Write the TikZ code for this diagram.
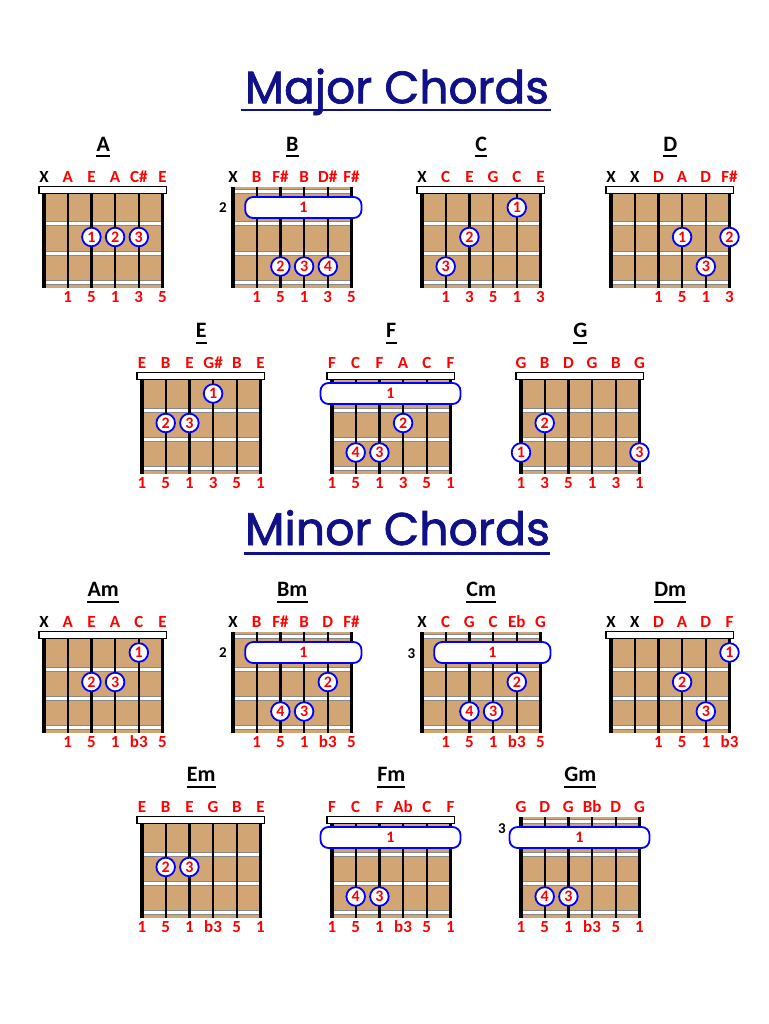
\documentclass[tikz,border=0pt]{standalone}
\usepackage{fontspec}
\setmainfont{Carlito}
\newfontfamily\titlefont{Poppins}[FakeBold=1.6]
\usetikzlibrary{calc}
\definecolor{board}{RGB}{210,166,116}
\definecolor{navy}{RGB}{16,16,136}
\definecolor{fretgray}{RGB}{135,135,135}
\newcommand\mx{\textcolor{black}{X}}
\tikzset{
  note/.style={text=red, font=\fontsize{17pt}{20pt}\selectfont\bfseries, anchor=base, inner sep=0pt},
  fingerdot/.style={circle, draw=blue, line width=1.8pt, fill=white, minimum size=18.6pt, inner sep=0pt, text=red, font=\fontsize{16pt}{18pt}\selectfont\bfseries},
  barrebox/.style={rectangle, rounded corners=8pt, draw=blue, line width=1.8pt, fill=white, minimum height=21pt, inner sep=0pt, text=red, font=\fontsize{16pt}{18pt}\selectfont\bfseries},
  chordtitle/.style={anchor=base, inner sep=0pt, font=\fontsize{22pt}{26pt}\selectfont\bfseries},
  poslabel/.style={inner sep=0pt, font=\fontsize{15pt}{18pt}\selectfont\bfseries},
  fretedge/.style={fretgray, line width=5pt},
  fretcore/.style={white, line width=3pt},
  lowstring/.style={black, line width=4pt},
  thinstring/.style={black, line width=2.4pt},
  nutbar/.style={draw=black, fill=white, line width=1.5pt},
  sectitle/.style={anchor=base, inner sep=0pt, text=navy},
  secline/.style={navy, line width=2.5pt},
}
% #1 prefix, #2 title, #3 nut (1/0), #4 notes, #5 intervals
\newcommand\chordbase[5]{%
  \ifnum#3=1\relax\def\btop{16.3}\else\def\btop{10}\fi
  \fill[board] (0,\btop) rectangle (118.5,111);
  \ifnum#3=0\relax
    \draw[fretedge] (0,14.5) -- (118.5,14.5);
    \draw[fretcore] (0,14.5) -- (118.5,14.5);
  \fi
  \foreach \f in {47,76,105} {
    \draw[fretedge] (0,\f) -- (118.5,\f);
    \draw[fretcore] (0,\f) -- (118.5,\f);
  }
  \draw[lowstring] (0,\btop) -- (0,111);
  \foreach \k in {1,...,5} \draw[thinstring] (\k*23.7,\btop) -- (\k*23.7,111);
  \ifnum#3=1\relax \draw[nutbar] (-5,9.7) rectangle (122.7,16.3); \fi
  \node[chordtitle] (#1-t) at (59.25,-25.5) {#2};
  \draw[line width=2pt] ($(#1-t.base west)+(0,5)$) -- ($(#1-t.base east)+(0,5)$);
  \foreach \n [count=\j from 0] in {#4} \node[note] (#1-n\j) at (\j*23.7,5.8) {\n};
  \foreach \n [count=\j from 0] in {#5} \node[note] (#1-i\j) at (\j*23.7,125.2) {\n};
}
% #1 name, #2 string, #3 fret, #4 finger
\newcommand\fing[4]{\node[fingerdot] (#1) at ({#2*23.7},{30.5+(#3-1)*29.5}) {#4};}
% #1 name, #2 start string
\newcommand\barre[2]{\node[barrebox, minimum width={128.5-(#2*23.7-11.5)}] (#1) at ({(#2*23.7-11.5+128.5)/2},30.5) {1};}
\begin{document}
\begin{tikzpicture}[x=1pt,y=-1pt]
\useasboundingbox[fill=white] (0,0) rectangle (768,1024);

% Section titles
\node[sectitle] (major) at (397,103.3) {\resizebox{304pt}{!}{\titlefont Major Chords}};
\draw[secline] ($(major.base west)+(-4,6.8)$) -- ($(major.base east)+(2,6.8)$);
\node[sectitle] (minor) at (397.5,545) {\resizebox{305pt}{!}{\titlefont Minor Chords}};
\draw[secline] ($(minor.base west)+(-1,8.3)$) -- ($(minor.base east)+(0,8.3)$);

% ---------- Major ----------
\begin{scope}[shift={(44,177)}]
  \chordbase{A}{A}{1}{\mx,A,E,A,C\#,E}{{},1,5,1,3,5}
  \fing{A-f1}{2}{2}{1}\fing{A-f2}{3}{2}{2}\fing{A-f3}{4}{2}{3}
\end{scope}
\begin{scope}[shift={(233,177)}]
  \chordbase{B}{B}{0}{\mx,B,F\#,B,D\#,F\#}{{},1,5,1,3,5}
  \node[poslabel] (B-p) at (-10,31) {2};
  \barre{B-b}{1}
  \fing{B-f2}{2}{3}{2}\fing{B-f3}{3}{3}{3}\fing{B-f4}{4}{3}{4}
\end{scope}
\begin{scope}[shift={(422,177)}]
  \chordbase{C}{C}{1}{\mx,C,E,G,C,E}{{},1,3,5,1,3}
  \fing{C-f1}{4}{1}{1}\fing{C-f2}{2}{2}{2}\fing{C-f3}{1}{3}{3}
\end{scope}
\begin{scope}[shift={(611,177)}]
  \chordbase{D}{D}{1}{\mx,\mx,D,A,D,F\#}{{},{},1,5,1,3}
  \fing{D-f1}{3}{2}{1}\fing{D-f2}{5}{2}{2}\fing{D-f3}{4}{3}{3}
\end{scope}
\begin{scope}[shift={(142,363)}]
  \chordbase{E}{E}{1}{E,B,E,G\#,B,E}{1,5,1,3,5,1}
  \fing{E-f1}{3}{1}{1}\fing{E-f2}{1}{2}{2}\fing{E-f3}{2}{2}{3}
\end{scope}
\begin{scope}[shift={(332,363)}]
  \chordbase{F}{F}{1}{F,C,F,A,C,F}{1,5,1,3,5,1}
  \barre{F-b}{0}
  \fing{F-f2}{3}{2}{2}\fing{F-f3}{2}{3}{3}\fing{F-f4}{1}{3}{4}
\end{scope}
\begin{scope}[shift={(521,363)}]
  \chordbase{G}{G}{1}{G,B,D,G,B,G}{1,3,5,1,3,1}
  \fing{G-f1}{0}{3}{1}\fing{G-f2}{1}{2}{2}\fing{G-f3}{5}{3}{3}
\end{scope}

% ---------- Minor ----------
\begin{scope}[shift={(44,622)}]
  \chordbase{Am}{Am}{1}{\mx,A,E,A,C,E}{{},1,5,1,b3,5}
  \fing{Am-f1}{4}{1}{1}\fing{Am-f2}{2}{2}{2}\fing{Am-f3}{3}{2}{3}
\end{scope}
\begin{scope}[shift={(233,622)}]
  \chordbase{Bm}{Bm}{0}{\mx,B,F\#,B,D,F\#}{{},1,5,1,b3,5}
  \node[poslabel] (Bm-p) at (-10,31) {2};
  \barre{Bm-b}{1}
  \fing{Bm-f2}{4}{2}{2}\fing{Bm-f3}{3}{3}{3}\fing{Bm-f4}{2}{3}{4}
\end{scope}
\begin{scope}[shift={(422,622)}]
  \chordbase{Cm}{Cm}{0}{\mx,C,G,C,Eb,G}{{},1,5,1,b3,5}
  \node[poslabel] (Cm-p) at (-10.5,31.5) {3};
  \barre{Cm-b}{1}
  \fing{Cm-f2}{4}{2}{2}\fing{Cm-f3}{3}{3}{3}\fing{Cm-f4}{2}{3}{4}
\end{scope}
\begin{scope}[shift={(611,622)}]
  \chordbase{Dm}{Dm}{1}{\mx,\mx,D,A,D,F}{{},{},1,5,1,b3}
  \fing{Dm-f1}{5}{1}{1}\fing{Dm-f2}{3}{2}{2}\fing{Dm-f3}{4}{3}{3}
\end{scope}
\begin{scope}[shift={(142,807)}]
  \chordbase{Em}{Em}{1}{E,B,E,G,B,E}{1,5,1,b3,5,1}
  \fing{Em-f2}{1}{2}{2}\fing{Em-f3}{2}{2}{3}
\end{scope}
\begin{scope}[shift={(332,807)}]
  \chordbase{Fm}{Fm}{1}{F,C,F,Ab,C,F}{1,5,1,b3,5,1}
  \barre{Fm-b}{0}
  \fing{Fm-f3}{2}{3}{3}\fing{Fm-f4}{1}{3}{4}
\end{scope}
\begin{scope}[shift={(521,807)}]
  \chordbase{Gm}{Gm}{0}{G,D,G,Bb,D,G}{1,5,1,b3,5,1}
  \node[poslabel] (Gm-p) at (-19,22) {3};
  \barre{Gm-b}{0}
  \fing{Gm-f3}{2}{3}{3}\fing{Gm-f4}{1}{3}{4}
\end{scope}
\end{tikzpicture}
\end{document}
